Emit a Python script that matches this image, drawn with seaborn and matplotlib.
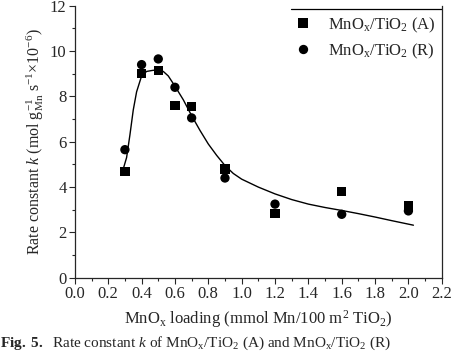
import numpy as np
import pandas as pd
import seaborn as sns
import matplotlib.pyplot as plt

# measured points
loading = [0.3, 0.4, 0.5, 0.6, 0.7, 0.9, 1.2, 1.6, 2.0]
k_anatase = [4.7, 9.0, 9.15, 7.6, 7.55, 4.8, 2.85, 3.8, 3.2]
k_rutile = [5.65, 9.4, 9.65, 8.4, 7.05, 4.4, 3.25, 2.8, 2.95]

# fitted curve
fit_x = [0.29, 0.31, 0.33, 0.35, 0.37, 0.40, 0.43, 0.47, 0.50, 0.53, 0.56, 0.60,
         0.65, 0.70, 0.75, 0.80, 0.85, 0.90, 0.95, 1.00, 1.10, 1.20, 1.30, 1.40,
         1.50, 1.60, 1.70, 1.80, 1.90, 2.03]
fit_k = [4.8, 5.3, 6.3, 7.4, 8.2, 8.9, 9.1, 9.15, 9.15, 9.1, 8.9, 8.45,
         7.85, 7.15, 6.5, 5.9, 5.4, 4.95, 4.6, 4.35, 4.0, 3.7, 3.45, 3.25,
         3.1, 2.97, 2.83, 2.68, 2.52, 2.32]

lab_a = r'MnO$_\mathregular{x}$/TiO$_\mathregular{2}$ (A)'
lab_r = r'MnO$_\mathregular{x}$/TiO$_\mathregular{2}$ (R)'

df = pd.concat([
    pd.DataFrame({'loading': loading, 'k': k_anatase, 'sample': lab_a}),
    pd.DataFrame({'loading': loading, 'k': k_rutile, 'sample': lab_r}),
])
fit = pd.DataFrame({'loading': fit_x, 'k': fit_k})

sns.set_style('ticks')
plt.rcParams['font.family'] = ['Liberation Serif', 'DejaVu Serif']
plt.rcParams['mathtext.fontset'] = 'custom'
plt.rcParams['mathtext.rm'] = 'Liberation Serif'
plt.rcParams['mathtext.it'] = 'Liberation Serif:italic'
plt.rcParams['mathtext.bf'] = 'Liberation Serif:bold'
plt.rcParams['xtick.direction'] = 'out'
plt.rcParams['ytick.direction'] = 'out'

fig = plt.figure(figsize=(4.74, 3.53), dpi=100)
ax = fig.add_axes([0.158, 0.213, 0.774, 0.771])

sns.lineplot(data=fit, x='loading', y='k', color='black', lw=1.0, ax=ax)
sns.scatterplot(data=df, x='loading', y='k', hue='sample', style='sample',
                markers={lab_a: 's', lab_r: 'o'},
                palette={lab_a: 'black', lab_r: 'black'},
                s=45, edgecolor='black', linewidth=0, ax=ax)

ax.set_xlim(0, 2.2)
ax.set_ylim(0, 12)
ax.set_xticks(np.arange(0, 2.21, 0.2))
ax.set_xticklabels([f'{v:.1f}' for v in np.arange(0, 2.21, 0.2)])
ax.set_xticks(np.arange(0.1, 2.2, 0.2), minor=True)
ax.set_yticks(range(0, 13, 2))
ax.set_yticks(range(1, 12, 2), minor=True)
ax.tick_params(labelsize=12, width=0.8, length=4, pad=2)
ax.tick_params(which='minor', width=0.8, length=2.5)
ax.spines['top'].set_visible(False)
for s in ['left', 'bottom', 'right']:
    ax.spines[s].set_linewidth(0.9)

ax.set_xlabel(r'MnO$_\mathregular{x}$ loading (mmol Mn/100 m$^\mathregular{2}$ TiO$_\mathregular{2}$)',
              fontsize=12, labelpad=4)
ax.set_ylabel(r'Rate constant $k$ (mol g$_\mathregular{Mn}^\mathregular{-1}$ s$^\mathregular{-1}$$\times$10$^\mathregular{-6}$)',
              fontsize=11.5, labelpad=3)

# legend box with only top edge showing
ax.axhline(11.85, xmin=0.59, xmax=1, color='black', lw=0.9)
leg = ax.legend(loc='upper right', bbox_to_anchor=(1.01, 1.0), frameon=False,
                fontsize=12, handletextpad=0.5, labelspacing=0.4, markerscale=1.0,
                borderaxespad=0.2)

fig.text(0.0, 0.004, r'$\mathbf{Fig.\ 5.}$  Rate constant $k$ of MnO$_\mathregular{x}$/TiO$_\mathregular{2}$ (A) and MnO$_\mathregular{x}$/TiO$_\mathregular{2}$ (R)',
         fontsize=11, va='bottom')

fig.savefig('out.png', dpi=100)
